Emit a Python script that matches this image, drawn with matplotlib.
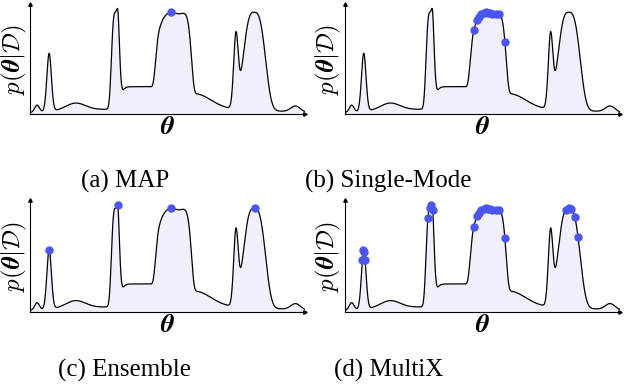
import numpy as np
import matplotlib
matplotlib.use("Agg")
import matplotlib.pyplot as plt

plt.rcParams['font.family'] = ['Liberation Serif', 'DejaVu Serif']
plt.rcParams['mathtext.fontset'] = 'cm'

# posterior shape: centre, width, height, shape power of each bump
comp_center = [0.500, 0.025, 0.069, 0.165, 0.320, 0.310, 0.395, 0.522, 0.505, 0.600, 0.748, 0.815, 0.965]
comp_width  = [0.480, 0.012, 0.0116, 0.050, 0.005, 0.017, 0.070, 0.066, 0.030, 0.080, 0.0116, 0.0475, 0.025]
comp_height = [0.050, 0.070, 0.570, 0.070, 0.120, 0.950, 0.220, 0.830, 0.080, 0.150, 0.700, 0.960, 0.060]
comp_power  = [4, 2, 2, 2, 2, 3, 8, 8, 2, 2, 2, 3, 2]

# sample locations shown as dots in each panel
map_pts = [0.511]
single_pts = [0.469, 0.481, 0.489, 0.497, 0.505, 0.513, 0.521, 0.529, 0.537, 0.548, 0.562, 0.582]
ensemble_pts = [0.069, 0.318, 0.511, 0.816]
multix_pts = [0.064, 0.068, 0.071, 0.074,
              0.302, 0.309, 0.315, 0.320] + single_pts + [0.803, 0.815, 0.824, 0.836, 0.848]

captions = ['(a) MAP', '(b) Single-Mode', '(c) Ensemble', '(d) MultiX']
panel_pts = [map_pts, single_pts, ensemble_pts, multix_pts]


def density(x):
    x = np.asarray(x, dtype=float)
    y = np.zeros_like(x)
    for c, w, h, p in zip(comp_center, comp_width, comp_height, comp_power):
        y += h * np.exp(-np.abs((x - c) / w) ** p)
    return y


fill_col = '#f0f0fc'
dot_col = '#4b55f0'

fig = plt.figure(figsize=(6.28, 3.87), dpi=100)
rects = [[0.048, 0.705, 0.438, 0.284], [0.549, 0.705, 0.438, 0.284],
         [0.048, 0.194, 0.438, 0.289], [0.549, 0.194, 0.438, 0.289]]
cap_pos = [(0.199, 0.530), (0.619, 0.530), (0.199, 0.042), (0.619, 0.042)]

xs = np.linspace(0, 1, 2000)
ys = density(xs)

for rect, pts, cap, cp in zip(rects, panel_pts, captions, cap_pos):
    ax = fig.add_axes(rect)
    ax.fill_between(xs, ys, color=fill_col, lw=0)
    ax.plot(xs, ys, color='k', lw=0.9)
    ax.plot(pts, density(pts), 'o', color=dot_col, ms=5, zorder=3, clip_on=False)
    ax.set_xlim(0, 1)
    ax.set_ylim(0, 1.08)
    ax.set_xticks([])
    ax.set_yticks([])
    ax.spines['top'].set_visible(False)
    ax.spines['right'].set_visible(False)
    ax.spines['left'].set_linewidth(0.8)
    ax.spines['bottom'].set_linewidth(0.8)
    ax.plot(1, 0, '>k', ms=2.5, transform=ax.transAxes, clip_on=False)
    ax.plot(0, 1, '^k', ms=2.5, transform=ax.transAxes, clip_on=False)
    ax.set_xlabel(r'$\boldsymbol{\theta}$', fontsize=19, labelpad=2)
    ax.set_ylabel(r'$p(\boldsymbol{\theta}|\mathcal{D})$', fontsize=18, labelpad=1)
    fig.text(cp[0], cp[1], cap, fontsize=18, ha='center', va='center')

fig.savefig('out.png', dpi=100)
